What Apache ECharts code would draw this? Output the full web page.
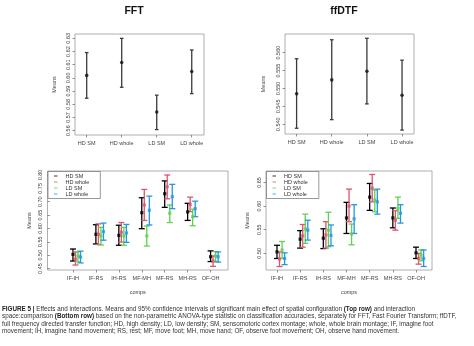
<!DOCTYPE html>
<html>
<head>
<meta charset="utf-8">
<script src="https://cdn.jsdelivr.net/npm/echarts@6/dist/echarts.min.js"></script>
<style>
  html, body { margin: 0; padding: 0; background: #fff; }
  #chart { width: 474px; height: 346px; }
</style>
</head>
<body>
<div id="chart"></div>
<script>
// ---- main effect of spatial configuration ----
const configs = ['HD SM', 'HD whole', 'LD SM', 'LD whole'];
const fftMean  = [0.6019, 0.6117, 0.5741, 0.6049];
const fftLower = [0.5846, 0.5929, 0.5608, 0.5881];
const fftUpper = [0.6192, 0.6300, 0.5869, 0.6212];
const dtfMean  = [0.5485, 0.5524, 0.5548, 0.5481];
const dtfLower = [0.5389, 0.5413, 0.5457, 0.5384];
const dtfUpper = [0.5583, 0.5636, 0.5640, 0.5579];

// ---- interaction space:comparison ----
const comps = ['IF-IH', 'IF-RS', 'IH-RS', 'MF-MH', 'MF-RS', 'MH-RS', 'OF-OH'];
const spaces = ['HD SM', 'HD whole', 'LD SM', 'LD whole'];

const fftHdSmMean     = [0.503, 0.578, 0.574, 0.659, 0.730, 0.662, 0.494];
const fftHdSmLower    = [0.478, 0.542, 0.537, 0.599, 0.679, 0.630, 0.476];
const fftHdSmUpper    = [0.523, 0.614, 0.612, 0.715, 0.778, 0.694, 0.516];
const fftHdWholeMean  = [0.485, 0.578, 0.586, 0.688, 0.756, 0.690, 0.478];
const fftHdWholeLower = [0.463, 0.540, 0.549, 0.630, 0.711, 0.663, 0.458];
const fftHdWholeUpper = [0.512, 0.617, 0.622, 0.746, 0.800, 0.717, 0.497];
const fftLdSmMean     = [0.497, 0.572, 0.572, 0.572, 0.657, 0.644, 0.497];
const fftLdSmLower    = [0.475, 0.538, 0.537, 0.534, 0.622, 0.610, 0.476];
const fftLdSmUpper    = [0.513, 0.604, 0.604, 0.609, 0.688, 0.672, 0.513];
const fftLdWholeMean  = [0.493, 0.588, 0.583, 0.668, 0.719, 0.674, 0.494];
const fftLdWholeLower = [0.471, 0.556, 0.548, 0.613, 0.674, 0.644, 0.474];
const fftLdWholeUpper = [0.515, 0.620, 0.615, 0.721, 0.765, 0.702, 0.512];

const dtfHdSmMean     = [0.503, 0.530, 0.532, 0.575, 0.619, 0.575, 0.501];
const dtfHdSmLower    = [0.489, 0.511, 0.510, 0.542, 0.591, 0.554, 0.489];
const dtfHdSmUpper    = [0.517, 0.548, 0.552, 0.608, 0.648, 0.596, 0.513];
const dtfHdWholeMean  = [0.488, 0.537, 0.539, 0.600, 0.638, 0.570, 0.489];
const dtfHdWholeLower = [0.472, 0.513, 0.511, 0.567, 0.609, 0.549, 0.477];
const dtfHdWholeUpper = [0.503, 0.561, 0.567, 0.636, 0.667, 0.590, 0.500];
const dtfLdSmMean     = [0.507, 0.552, 0.549, 0.541, 0.613, 0.595, 0.496];
const dtfLdSmLower    = [0.489, 0.521, 0.514, 0.518, 0.588, 0.574, 0.484];
const dtfLdSmUpper    = [0.525, 0.583, 0.587, 0.562, 0.634, 0.619, 0.507];
const dtfLdWholeMean  = [0.489, 0.549, 0.538, 0.573, 0.609, 0.585, 0.489];
const dtfLdWholeLower = [0.476, 0.528, 0.516, 0.542, 0.583, 0.564, 0.472];
const dtfLdWholeUpper = [0.501, 0.570, 0.560, 0.603, 0.636, 0.603, 0.507];

const fftTicksTop = [0.56, 0.57, 0.58, 0.59, 0.60, 0.61, 0.62, 0.63];
const dtfTicksTop = [0.540, 0.545, 0.550, 0.555, 0.560];
const fftTicksBottom = [0.45, 0.50, 0.55, 0.60, 0.65, 0.70, 0.75, 0.80];
const dtfTicksBottom = [0.50, 0.55, 0.60, 0.65];

const spaceColors = ['#000000', '#DF536B', '#61D04F', '#2297E6'];
const FONT = 'Liberation Sans, Arial, sans-serif';
const AX_COLOR = '#444';

const fftGroups = [
  [fftHdSmMean, fftHdSmLower, fftHdSmUpper],
  [fftHdWholeMean, fftHdWholeLower, fftHdWholeUpper],
  [fftLdSmMean, fftLdSmLower, fftLdSmUpper],
  [fftLdWholeMean, fftLdWholeLower, fftLdWholeUpper]
];
const dtfGroups = [
  [dtfHdSmMean, dtfHdSmLower, dtfHdSmUpper],
  [dtfHdWholeMean, dtfHdWholeLower, dtfHdWholeUpper],
  [dtfLdSmMean, dtfLdSmLower, dtfLdSmUpper],
  [dtfLdWholeMean, dtfLdWholeLower, dtfLdWholeUpper]
];

function xAxisFor(gridIndex, min, max, labels, name) {
  const pos = labels.map((_, i) => i + 1);
  return {
    type: 'value', gridIndex, min, max,
    axisLine: { show: false },
    splitLine: { show: false },
    axisTick: { show: true, customValues: pos, length: 2.5, lineStyle: { color: '#666', width: 0.7 } },
    axisLabel: {
      customValues: pos,
      formatter: v => labels[Math.round(v) - 1] || '',
      fontSize: 5.5, color: AX_COLOR, margin: 5, fontFamily: FONT
    },
    name: name || '', nameLocation: 'middle', nameGap: 19,
    nameTextStyle: { fontSize: 5.5, color: AX_COLOR, fontFamily: FONT }
  };
}

function yAxisFor(gridIndex, min, max, ticks, digits, nameGap) {
  return {
    type: 'value', gridIndex, min, max,
    axisLine: { show: false },
    splitLine: { show: false },
    axisTick: { show: true, customValues: ticks, length: 2.5, lineStyle: { color: '#666', width: 0.7 } },
    axisLabel: {
      customValues: ticks, rotate: 90,
      formatter: v => v.toFixed(digits),
      fontSize: 5.5, color: AX_COLOR, margin: 4, fontFamily: FONT
    },
    name: 'Means', nameLocation: 'middle', nameRotate: 90, nameGap: nameGap,
    nameTextStyle: { fontSize: 5.5, color: AX_COLOR, fontFamily: FONT }
  };
}

// vertical interval with end caps
function ciRenderer(capHalf, color, width) {
  return function (params, api) {
    const x = api.value(0);
    const lo = api.coord([x, api.value(1)]);
    const hi = api.coord([x, api.value(2)]);
    const style = { stroke: color, lineWidth: width };
    return {
      type: 'group',
      children: [
        { type: 'line', shape: { x1: lo[0], y1: lo[1], x2: hi[0], y2: hi[1] }, style },
        { type: 'line', shape: { x1: lo[0] - capHalf, y1: lo[1], x2: lo[0] + capHalf, y2: lo[1] }, style },
        { type: 'line', shape: { x1: hi[0] - capHalf, y1: hi[1], x2: hi[0] + capHalf, y2: hi[1] }, style }
      ]
    };
  };
}

const series = [];

// top row: main effects
function addMainEffect(idx, mean, lower, upper, tag) {
  series.push({
    type: 'custom', name: tag + '-ci', xAxisIndex: idx, yAxisIndex: idx,
    renderItem: ciRenderer(1.8, '#3a3a3a', 1.3),
    encode: { x: 0, y: [1, 2] },
    data: mean.map((m, i) => [i + 1, lower[i], upper[i]]),
    silent: true, z: 2
  });
  series.push({
    type: 'scatter', name: tag + '-mean', xAxisIndex: idx, yAxisIndex: idx,
    symbol: 'circle', symbolSize: 3.6,
    itemStyle: { color: '#111' },
    data: mean.map((m, i) => [i + 1, m]),
    silent: true, z: 3
  });
}
addMainEffect(0, fftMean, fftLower, fftUpper, 'fft');
addMainEffect(1, dtfMean, dtfLower, dtfUpper, 'dtf');

// bottom row: interaction, one series per spatial configuration, shifted slightly right
const shift = 0.11;
function addInteraction(idx, groups) {
  groups.forEach((g, s) => {
    const [mean, lower, upper] = g;
    series.push({
      type: 'custom', name: spaces[s], xAxisIndex: idx, yAxisIndex: idx,
      renderItem: ciRenderer(3, spaceColors[s], 1.3),
      encode: { x: 0, y: [1, 2] },
      itemStyle: { color: spaceColors[s] },
      data: mean.map((m, i) => [i + 1 + s * shift, lower[i], upper[i]]),
      silent: true, z: 2
    });
    series.push({
      type: 'scatter', name: spaces[s], xAxisIndex: idx, yAxisIndex: idx,
      symbol: 'rect', symbolSize: 3.2,
      itemStyle: { color: spaceColors[s] },
      data: mean.map((m, i) => [i + 1 + s * shift, m]),
      silent: true, z: 3
    });
  });
}
addInteraction(2, fftGroups);
addInteraction(3, dtfGroups);

function legendAt(left, top) {
  return {
    left, top, orient: 'vertical', selectedMode: false,
    data: spaces.map((s, i) => ({ name: s, icon: 'rect', itemStyle: { color: spaceColors[i] } })),
    itemWidth: 3.5, itemHeight: 0.8, itemGap: 0,
    textStyle: { fontSize: 5.5, color: '#333', fontFamily: FONT, lineHeight: 5.9, padding: [0, 0, 0, 3] },
    borderColor: '#555', borderWidth: 0.6, padding: [1.5, 11, 1.5, 6],
    backgroundColor: '#fff'
  };
}

function captionLine(y, text) {
  return {
    type: 'text', x: 2, y,
    style: {
      text, fill: '#333', font: '6.3px ' + FONT, textVerticalAlign: 'middle',
      rich: { b: { fontWeight: 'bold', fontSize: 6.3, fontFamily: FONT, fill: '#222' } }
    },
    silent: true
  };
}

const option = {
  backgroundColor: '#fff',
  animation: false,
  grid: [
    { left: 75, top: 34, width: 129, height: 101, show: true, borderColor: '#999', borderWidth: 0.8 },
    { left: 285, top: 34, width: 129, height: 100, show: true, borderColor: '#999', borderWidth: 0.8 },
    { left: 47.5, top: 171, width: 180.5, height: 99, show: true, borderColor: '#999', borderWidth: 0.8 },
    { left: 266, top: 171, width: 166, height: 99, show: true, borderColor: '#999', borderWidth: 0.8 }
  ],
  xAxis: [
    xAxisFor(0, 0.666, 4.35, configs),
    xAxisFor(1, 0.67, 4.34, configs),
    xAxisFor(2, -0.11, 7.76, comps, 'comps'),
    xAxisFor(3, 0.526, 7.69, comps, 'comps')
  ],
  yAxis: [
    yAxisFor(0, 0.5567, 0.6333, fftTicksTop, 2, 18),
    yAxisFor(1, 0.5373, 0.5652, dtfTicksTop, 3, 19),
    yAxisFor(2, 0.4444, 0.815, fftTicksBottom, 2, 15),
    yAxisFor(3, 0.4646, 0.6744, dtfTicksBottom, 2, 16)
  ],
  legend: [legendAt(48, 171.5), legendAt(266.5, 171.5)],
  series,
  graphic: [
    { type: 'text', x: 134, y: 11, silent: true,
      style: { text: 'FFT', fill: '#111', font: 'bold 10.5px ' + FONT, textAlign: 'center', textVerticalAlign: 'middle' } },
    { type: 'text', x: 344, y: 11, silent: true,
      style: { text: 'ffDTF', fill: '#111', font: 'bold 10.5px ' + FONT, textAlign: 'center', textVerticalAlign: 'middle' } },
    captionLine(309.3, '{b|FIGURE 5 |} Effects and interactions. Means and 95% confidence intervals of significant main effect of spatial configuration {b|(Top row)} and interaction'),
    captionLine(316.6, 'space:comparison {b|(Bottom row)} based on the non-parametric ANOVA-type statistic on classification accuracies, separately for FFT, Fast Fourier Transform; ffDTF,'),
    captionLine(323.9, 'full frequency directed transfer function; HD, high density; LD, low density; SM, sensomotoric cortex montage; whole, whole brain montage; IF, imagine foot'),
    captionLine(331.2, 'movement; IH, imagine hand movement; RS, rest; MF, move foot; MH, move hand; OF, observe foot movement; OH, observe hand movement.')
  ]
};

const chart = echarts.init(document.getElementById('chart'), null, { renderer: 'canvas' });
chart.setOption(option);
</script>
</body>
</html>
